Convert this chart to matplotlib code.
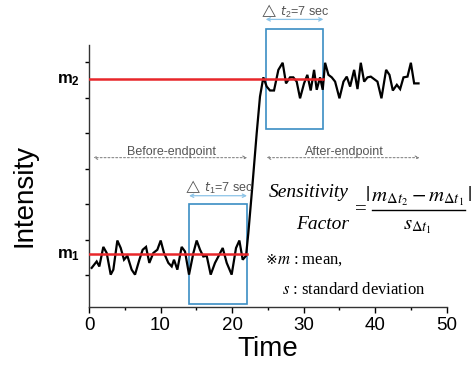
import matplotlib
matplotlib.use("Agg")
import matplotlib.pyplot as plt
from matplotlib.patches import Rectangle

# ---- data ----
before_t = [0.37, 1.07, 1.44, 2.0, 2.47, 3.03, 3.40, 3.96, 4.43, 4.89, 5.36, 5.96, 6.43,
            7.04, 7.50, 7.97, 8.43, 8.99, 9.55, 10.02, 10.48, 11.09, 11.56, 11.88, 12.35,
            12.95, 13.42, 13.98, 14.59, 15.05, 15.52, 15.98, 16.45, 17.01, 17.61, 18.08,
            18.69, 19.25, 19.94, 20.55, 21.02, 21.48, 21.95]
before_y = [0.21, 0.39, 0.25, 0.80, 0.63, 0.02, 0.16, 0.98, 0.77, 0.44, 0.55, 0.16, 0.02,
            0.44, 0.72, 0.80, 0.35, 0.63, 0.72, 0.98, 0.63, 0.35, 0.25, 0.44, 0.16,
            0.80, 0.67, 0.02, 0.63, 0.98, 0.72, 0.53, 0.55, 0.02, 0.35, 0.53,
            0.77, 0.35, 0.02, 0.77, 0.98, 0.44, 0.55]
rise_t = [22.27, 22.83, 23.44, 23.90]
rise_y = [1.19, 2.50, 4.00, 5.03]
after_t = [24.37, 24.84, 25.30, 25.86, 26.47, 27.07, 27.54, 28.10, 28.56, 29.03, 29.50,
           30.06, 30.52, 30.99, 31.46, 31.83, 32.30, 32.67, 33.0, 33.47, 33.93, 34.40,
           35.01, 35.57, 36.03, 36.50, 37.06, 37.53, 37.99, 38.46, 38.93, 39.39, 40.32,
           40.88, 41.53, 42.0, 42.47, 43.03, 43.49, 43.96, 44.52, 44.99, 45.45, 46.06]
after_y = [5.57, 5.31, 5.20, 5.20, 5.78, 5.98, 5.40, 5.57, 5.57, 5.45, 4.98,
           5.40, 5.64, 5.20, 5.78, 5.22, 5.57, 5.22, 5.98, 5.64, 5.57, 5.45,
           4.98, 5.45, 5.59, 5.31, 5.78, 5.24, 5.98, 5.45, 5.57, 5.59, 5.45,
           4.98, 5.78, 5.64, 5.20, 5.36, 5.24, 5.57, 5.59, 5.98, 5.40, 5.40]
m1, m2 = 0.60, 5.51
box1 = (13.98, 22.09, -0.81, 2.0)
box2 = (24.7, 32.76, 4.12, 6.92)
xticks = [0, 10, 20, 30, 40, 50]

plt.rcParams['mathtext.fontset'] = 'custom'
plt.rcParams['mathtext.rm'] = 'Liberation Sans'
plt.rcParams['mathtext.bf'] = 'Liberation Sans:bold'

fig = plt.figure(figsize=(4.74, 3.70), dpi=100)
ax = fig.add_axes([0.1878, 0.1703, 0.7546, 0.7081])
ax.set_xlim(0, 50)
ax.set_ylim(-0.89, 6.48)

t_all = before_t + rise_t + after_t
y_all = before_y + rise_y + after_y
ax.plot(t_all, y_all, color='black', lw=1.6, zorder=3, solid_joinstyle='miter')

ax.plot([0, box1[1]], [m1, m1], color='#e8262a', lw=1.8, zorder=4)
ax.plot([0, box2[1]], [m2, m2], color='#e8262a', lw=1.8, zorder=4)

for (x0, x1, y0, y1) in (box1, box2):
    ax.add_patch(Rectangle((x0, y0), x1 - x0, y1 - y0, fill=False,
                           edgecolor='#3b8ec4', lw=1.2, clip_on=False, zorder=2))

# delta t arrows
for (x0, x1, y0, y1), ya, sub in ((box1, 2.24, '1'), (box2, 7.20, '2')):
    ax.annotate('', xy=(x0, ya), xytext=(x1, ya),
                arrowprops=dict(arrowstyle='<->', color='#8cc4e8', lw=0.9,
                                shrinkA=0, shrinkB=0, mutation_scale=6),
                annotation_clip=False)
    ax.text((x0 + x1) / 2, ya - 0.02, r'$\triangle\,t_{%s}$=7 sec' % sub,
            ha='center', va='bottom', fontsize=9, color='#555555',
            family='Liberation Sans', clip_on=False)

# before/after arrows
for xa, xb, label in ((0.6, 22.1, 'Before-endpoint'), (24.8, 46.2, 'After-endpoint')):
    ax.annotate('', xy=(xa, 3.31), xytext=(xb, 3.31),
                arrowprops=dict(arrowstyle='<->', color='#777777', lw=0.7,
                                linestyle=(0, (2, 2)), shrinkA=0, shrinkB=0,
                                mutation_scale=6))
    ax.text((xa + xb) / 2 + 0.2, 3.30, label, ha='center', va='bottom',
            fontsize=9, color='#555555', family='Liberation Sans')

# formula
serif = ['Liberation Serif', 'DejaVu Serif']
ax.text(36.3, 2.32, 'Sensitivity', ha='right', va='center', fontsize=14,
        style='italic', family=serif)
ax.text(36.3, 1.42, 'Factor', ha='right', va='center', fontsize=14,
        style='italic', family=serif)
ax.text(37.95, 1.84, '=', ha='center', va='center', fontsize=15, family=serif)
ax.text(46.0, 2.24, r'$|\,m_{\Delta t_2} - m_{\Delta t_1}\,|$', ha='center',
        va='center', fontsize=15, math_fontfamily='stix', clip_on=False)
ax.plot([39.5, 52.6], [1.84, 1.84], color='black', lw=1.0, clip_on=False)
ax.text(45.9, 1.38, r'$s_{\Delta t_1}$', ha='center', va='center', fontsize=15,
        math_fontfamily='stix')
ax.text(24.65, 0.44, '\u203b', ha='left', va='center', fontsize=10,
        family=['DejaVu Sans'])
ax.text(26.3, 0.44, r'$m$ : mean,', ha='left', va='center', fontsize=12,
        family=serif, math_fontfamily='stix')
ax.text(27.0, -0.40, r'$s$ : standard deviation', ha='left', va='center',
        fontsize=12, family=serif, math_fontfamily='stix')

# axes styling
for s in ('top', 'right'):
    ax.spines[s].set_visible(False)
for s in ('left', 'bottom'):
    ax.spines[s].set_linewidth(1.0)
    ax.spines[s].set_color('#333333')
ax.set_xticks(xticks)
ax.set_xticks([5, 15, 25, 35, 45], minor=True)
ax.set_yticks([0, 1, 2, 3, 4, 5, 6])
ax.set_yticklabels([])
ax.tick_params(axis='x', which='major', direction='out', length=4, width=1,
               labelsize=13.5, pad=3)
ax.tick_params(axis='x', which='minor', direction='out', length=2.5, width=1)
ax.tick_params(axis='y', which='major', direction='out', length=3, width=1)
for lab in ax.get_xticklabels():
    lab.set_family('Liberation Sans')

ax.text(-1.3, m1, r'$\mathbf{m_1}$', ha='right', va='center', fontsize=12)
ax.text(-1.3, m2, r'$\mathbf{m_2}$', ha='right', va='center', fontsize=12)

ax.set_xlabel('Time', fontsize=20, family='Liberation Sans', labelpad=2)
ax.set_ylabel('Intensity', fontsize=20, family='Liberation Sans')
ax.yaxis.set_label_coords(-0.145, 0.427)

fig.savefig('out.png', dpi=100, facecolor='white')
